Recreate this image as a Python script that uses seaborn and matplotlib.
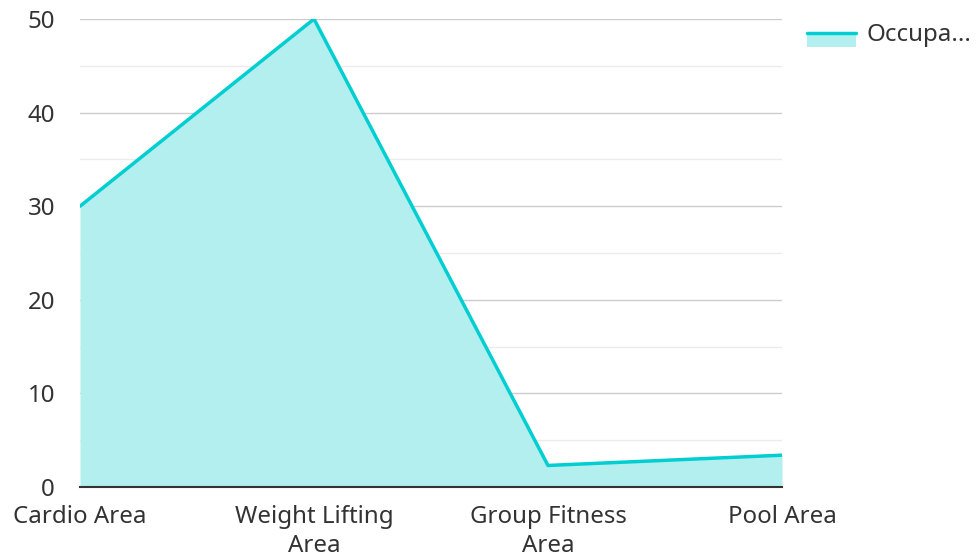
import matplotlib
matplotlib.use("Agg")
import matplotlib.pyplot as plt
import seaborn as sns
import pandas as pd
from matplotlib.legend_handler import HandlerBase
from matplotlib.patches import Rectangle
from matplotlib.lines import Line2D

categories = ["Cardio Area", "Weight Lifting\nArea", "Group Fitness\nArea", "Pool Area"]
values = [30, 50, 2.3, 3.4]
series_name = "Occupa..."
yticks = [0, 10, 20, 30, 40, 50]

LINE = "#00CED1"
FILL = "#B2EFEE"
FS = 17.3

sns.set_theme(style="white")
plt.rcParams['font.family'] = ['Noto Sans', 'DejaVu Sans']

fig = plt.figure(figsize=(9.76, 5.58), dpi=100)
ax = fig.add_axes([80/976, 1-487/558, (782-80)/976, (487-19)/558])

df = pd.DataFrame({"cat": categories, "val": values})
xs = list(range(len(categories)))
ax.fill_between(xs, df["val"], 0, color=FILL, linewidth=0, zorder=2)
sns.lineplot(x=xs, y=df["val"], ax=ax, color=LINE, linewidth=2.5, zorder=3)

ax.set_xlim(0, len(categories) - 1)
ax.set_ylim(0, 50)
ax.set_xticks(xs)
ax.set_xticklabels(categories, fontsize=FS, color="#333333")
ax.set_yticks(yticks)
ax.set_yticklabels([str(v) for v in yticks], fontsize=FS, color="#333333")
ax.set_yticks([5, 15, 25, 35, 45], minor=True)
ax.grid(axis="y", which="major", color="#cccccc", linewidth=1, zorder=1)
ax.grid(axis="y", which="minor", color="#ebebeb", linewidth=1, zorder=1)
ax.set_axisbelow(True)
for s in ["left", "right", "top"]:
    ax.spines[s].set_visible(False)
ax.spines["bottom"].set_color("#333333")
ax.spines["bottom"].set_linewidth(1.5)
ax.spines["bottom"].set_zorder(4)
ax.tick_params(axis="x", which="both", length=0, pad=13)
ax.tick_params(axis="y", which="both", length=0, pad=18)
ax.set_xlabel("")
ax.set_ylabel("")
for lab in ax.get_xticklabels():
    lab.set_linespacing(1.3)


class AreaHandler(HandlerBase):
    def create_artists(self, legend, orig_handle, xdescent, ydescent, width, height, fontsize, trans):
        d = 0.3 * fontsize
        r = Rectangle((-xdescent, -ydescent - d), width, height, facecolor=FILL, edgecolor="none", transform=trans)
        top = -ydescent - d + height
        l = Line2D([-xdescent, -xdescent + width], [top, top], color=LINE, linewidth=2.5, transform=trans)
        return [r, l]


handle = Rectangle((0, 0), 1, 1)
fig.legend([handle], [series_name], handler_map={Rectangle: AreaHandler()},
           loc="upper left", bbox_to_anchor=(800/976, 1-16/558), frameon=False,
           fontsize=FS, handlelength=2.05, handleheight=0.5, handletextpad=0.4,
           labelcolor="#333333", borderaxespad=0, borderpad=0.3)

fig.savefig("out.png", dpi=100)
